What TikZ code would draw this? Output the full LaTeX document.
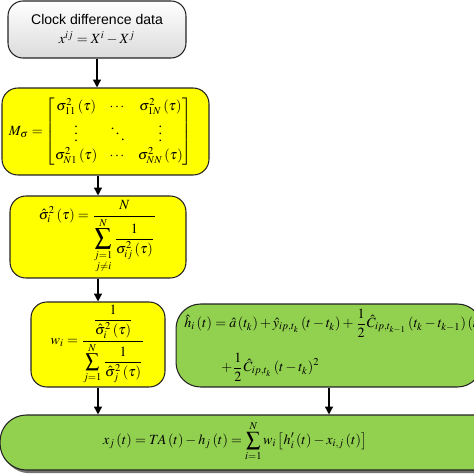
\documentclass[tikz,border=0pt]{standalone}
\usepackage{amsmath}
\usepackage{graphicx}
\usepackage{mathptmx}
\usepackage[no-math]{fontspec}
\setmainfont{Liberation Serif}
\setsansfont{Liberation Sans}
\usetikzlibrary{arrows.meta, positioning, shadows}
\definecolor{calcyellow}{RGB}{255,255,0}
\definecolor{modelgreen}{RGB}{146,208,80}
\definecolor{edgecolor}{RGB}{35,35,35}
\newcommand{\largesum}[1]{\mathop{\vcenter{\hbox{\scalebox{#1}{$\textstyle\sum$}}}}\limits}

\begin{document}
\begin{tikzpicture}[
    x=0.02cm, y=-0.02cm,
    font=\fontsize{8}{10}\selectfont,
    startbox/.style={draw=edgecolor, line width=0.6pt, top color=white, bottom color=black!14, rounded corners=8.5pt, align=center, inner sep=0pt},
    calcbox/.style={draw=edgecolor, line width=0.6pt, fill=calcyellow, rounded corners=9pt, align=center, inner sep=0pt},
    modelbox/.style={draw=edgecolor, line width=0.6pt, fill=modelgreen, rounded corners=14pt, inner sep=0pt},
    arr/.style={line width=0.8pt, -{Triangle[length=4.5pt, width=4.5pt]}}
]
    \useasboundingbox (0,0) rectangle (474,474);
    \clip (0,0) rectangle (474,474);

    % Left column
    \node[startbox, minimum width=3.56cm, minimum height=1.14cm] (data) at (97,29.5) {\sffamily Clock difference data\\[1pt] $x^{ij}=X^{i}-X^{j}$};
    \node[calcbox, minimum width=4.14cm, minimum height=1.74cm] (matrix) at (105.5,131.5) {\setlength{\arraycolsep}{3.5pt}$\displaystyle M_{\sigma}=\begin{bmatrix} \sigma_{11}^{2}\left(\tau\right) & \cdots & \sigma_{1N}^{2}\left(\tau\right)\\ \vdots & \ddots & \vdots\\ \sigma_{N1}^{2}\left(\tau\right) & \cdots & \sigma_{NN}^{2}\left(\tau\right) \end{bmatrix}$\hspace*{0.2cm}};
    \node[calcbox, minimum width=3.52cm, minimum height=1.64cm] (sigma) at (98,237) {$\displaystyle \hat{\sigma}_{i}^{2}\left(\tau\right)=\frac{N}{\largesum{1.7}_{\substack{j=1\\ j\neq i}}^{N}\dfrac{1}{\sigma_{ij}^{2}\left(\tau\right)}}$};
    \node[calcbox, minimum width=2.68cm, minimum height=1.7cm] (weight) at (98,344.5) {$\displaystyle w_{i}=\frac{\dfrac{1}{\hat{\sigma}_{i}^{2}\left(\tau\right)}}{\largesum{1.4}_{j=1}^{N}\dfrac{1}{\hat{\sigma}_{j}^{2}\left(\tau\right)}}$};

    % Prediction and time scale
    \node[modelbox, minimum width=6.12cm, minimum height=1.66cm] (predict) at (329,345.5) {};
    \node[anchor=west, inner sep=0pt] (hline) at (184,323) {$\displaystyle \hat{h}_{i}\left(t\right)=\hat{a}\left(t_{k}\right)+\hat{y}_{ip,t_{k}}\left(t-t_{k}\right)+\frac{1}{2}\hat{C}_{ip,t_{k-1}}\left(t_{k}-t_{k-1}\right)\left(t-t_{k}\right)$};
    \node[anchor=west, inner sep=0pt] (hcont) at (221,367) {$\displaystyle +\frac{1}{2}\hat{C}_{ip,t_{k}}\left(t-t_{k}\right)^{2}$};
    \node[modelbox, rounded corners=15pt, minimum width=10.4cm, minimum height=1.1cm, drop shadow={shadow xshift=1.5pt, shadow yshift=-1.8pt, fill=black!55, opacity=1}] (scale) at (260,442.5) {};
    \node[inner sep=0pt] (tform) at (235,441) {$\displaystyle x_{j}\left(t\right)=TA\left(t\right)-h_{j}\left(t\right)=\sum\limits_{i=1}^{N}w_{i}\left[h_{i}^{\prime}\left(t\right)-x_{i,j}\left(t\right)\right]$};

    % Connections
    \draw[arr] (data.south) -- (data.south |- matrix.north);
    \draw[arr] (matrix.south -| sigma.north) -- (sigma.north);
    \draw[arr] (sigma.south) -- (weight.north);
    \draw[arr] (weight.south) -- (weight.south |- scale.north);
    \draw[arr] (predict.south) -- (predict.south |- scale.north);
\end{tikzpicture}
\end{document}
